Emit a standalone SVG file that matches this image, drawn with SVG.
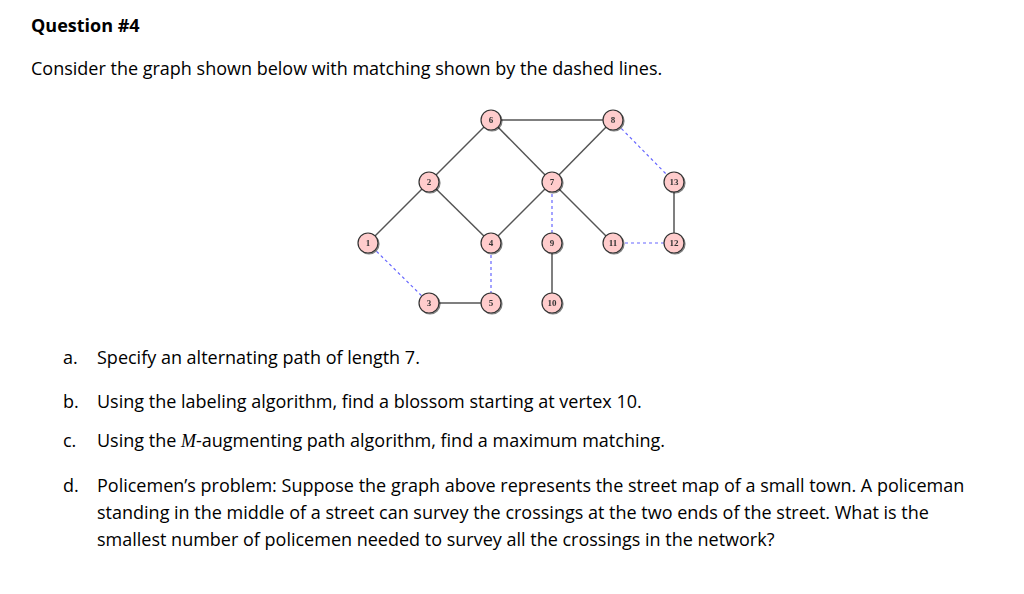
<svg xmlns="http://www.w3.org/2000/svg" width="1024" height="594" viewBox="0 0 1024 594">
<style>
text{font-family:"Open Sans","Liberation Sans",sans-serif;font-size:18px;fill:#000}
.n circle{fill:#fcc;stroke:#333;stroke-width:1.2}
.n text{font-family:"Liberation Serif",serif;font-size:9px;font-weight:bold;text-anchor:middle;fill:#333}
.e{stroke:#555;stroke-width:1.5}
.m{stroke:#66f;stroke-width:1.2;stroke-dasharray:3,3}
</style>
<defs><filter id="s"><feDropShadow dx="1" dy="1" stdDeviation="0.6" flood-opacity="0.5"/></filter></defs>
<rect width="1024" height="594" fill="#fff"/>
<text x="31" y="32" font-weight="bold" font-size="17">Question #4</text>
<text x="31" y="75">Consider the graph shown below with matching shown by the dashed lines.</text>
<g id="edges">
<line class="e" x1="491" y1="120" x2="613" y2="120"/>
<line class="e" x1="491" y1="120" x2="429" y2="182"/>
<line class="e" x1="491" y1="120" x2="552" y2="182"/>
<line class="e" x1="613" y1="120" x2="552" y2="182"/>
<line class="e" x1="429" y1="182" x2="368" y2="243"/>
<line class="e" x1="429" y1="182" x2="491" y2="243"/>
<line class="e" x1="552" y1="182" x2="491" y2="243"/>
<line class="e" x1="552" y1="182" x2="613" y2="243"/>
<line class="e" x1="674" y1="182" x2="674" y2="243"/>
<line class="e" x1="552" y1="243" x2="552" y2="303"/>
<line class="e" x1="429" y1="303" x2="491" y2="303"/>
<line class="m" x1="613" y1="120" x2="674" y2="182"/>
<line class="m" x1="552" y1="182" x2="552" y2="243"/>
<line class="m" x1="613" y1="243" x2="674" y2="243"/>
<line class="m" x1="368" y1="243" x2="429" y2="303"/>
<line class="m" x1="491" y1="243" x2="491" y2="303"/>
</g>
<g class="n" filter="url(#s)">
<g id="n6"><circle cx="491" cy="120" r="10"/><text x="491" y="123">6</text></g>
<g id="n8"><circle cx="613" cy="120" r="10"/><text x="613" y="123">8</text></g>
<g id="n2"><circle cx="429" cy="182" r="10"/><text x="429" y="185">2</text></g>
<g id="n7"><circle cx="552" cy="182" r="10"/><text x="552" y="185">7</text></g>
<g id="n13"><circle cx="674" cy="182" r="10"/><text x="674" y="185">13</text></g>
<g id="n1"><circle cx="368" cy="243" r="10"/><text x="368" y="246">1</text></g>
<g id="n4"><circle cx="491" cy="243" r="10"/><text x="491" y="246">4</text></g>
<g id="n9"><circle cx="552" cy="243" r="10"/><text x="552" y="246">9</text></g>
<g id="n11"><circle cx="613" cy="243" r="10"/><text x="613" y="246">11</text></g>
<g id="n12"><circle cx="674" cy="243" r="10"/><text x="674" y="246">12</text></g>
<g id="n3"><circle cx="429" cy="303" r="10"/><text x="429" y="306">3</text></g>
<g id="n5"><circle cx="491" cy="303" r="10"/><text x="491" y="306">5</text></g>
<g id="n10"><circle cx="552" cy="303" r="10"/><text x="552" y="306">10</text></g>
</g>
<text x="63" y="364">a.</text><text x="97" y="364">Specify an alternating path of length 7.</text>
<text x="63" y="408">b.</text><text x="97" y="408">Using the labeling algorithm, find a blossom starting at vertex 10.</text>
<text x="63" y="447">c.</text><text x="97" y="447">Using the <tspan font-family="Liberation Serif,serif" font-style="italic">M</tspan>-augmenting path algorithm, find a maximum matching.</text>
<text x="63" y="492">d.</text><text x="97" y="492">Policemen’s problem: Suppose the graph above represents the street map of a small town. A policeman</text>
<text x="97" y="519">standing in the middle of a street can survey the crossings at the two ends of the street. What is the</text>
<text x="97" y="546">smallest number of policemen needed to survey all the crossings in the network?</text>
</svg>
